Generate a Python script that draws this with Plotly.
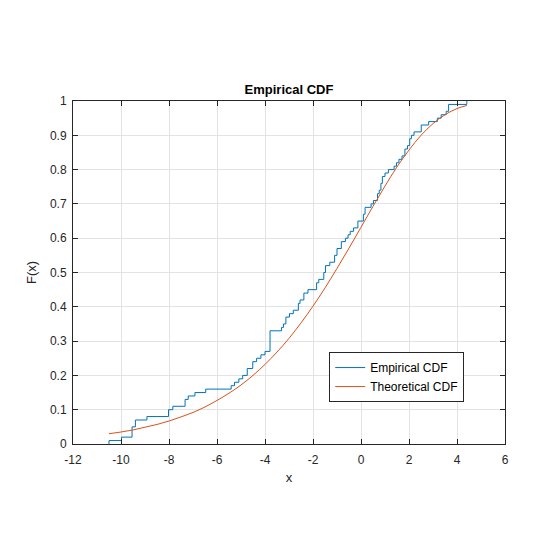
import plotly.graph_objects as go

# --- data ---
# empirical CDF: x position of each jump and the F value right after it
jump_x = [-10.50, -9.98, -9.54, -9.40, -8.92, -8.02, -7.84, -7.33, -7.20, -6.92,
          -6.47, -5.41, -5.27, -5.09, -4.93, -4.74, -4.51, -4.35, -4.17, -4.00,
          -3.79, -3.31, -3.23, -3.13, -2.98, -2.82, -2.61, -2.54, -2.38, -2.21,
          -1.85, -1.76, -1.55, -1.48, -1.30, -1.10, -1.00, -0.82, -0.65, -0.54,
          -0.45, -0.31, -0.13, 0.10, 0.17, 0.42, 0.52, 0.69, 0.76, 0.83,
          0.89, 1.00, 1.14, 1.38, 1.48, 1.58, 1.71, 1.83, 1.94, 2.03,
          2.10, 2.21, 2.51, 2.82, 3.18, 3.34, 3.55, 3.65, 4.41]
jump_f = [0.01, 0.02, 0.05, 0.07, 0.08, 0.10, 0.11, 0.13, 0.14, 0.15,
          0.16, 0.17, 0.18, 0.19, 0.20, 0.22, 0.24, 0.25, 0.26, 0.27,
          0.33, 0.34, 0.35, 0.37, 0.38, 0.39, 0.41, 0.42, 0.44, 0.45,
          0.47, 0.48, 0.50, 0.52, 0.53, 0.55, 0.57, 0.59, 0.60, 0.61,
          0.62, 0.63, 0.65, 0.67, 0.69, 0.70, 0.71, 0.73, 0.74, 0.76,
          0.78, 0.79, 0.80, 0.81, 0.82, 0.83, 0.84, 0.86, 0.87, 0.89,
          0.90, 0.91, 0.93, 0.94, 0.95, 0.96, 0.97, 0.99, 1.00]

# theoretical CDF, sampled along the curve
theo_x = [-10.5, -10.0, -9.5, -9.0, -8.5, -8.0, -7.5, -7.0, -6.5, -6.0,
          -5.5, -5.0, -4.5, -4.0, -3.5, -3.0, -2.5, -2.0, -1.5, -1.0,
          -0.5, 0.0, 0.5, 1.0, 1.5, 2.0, 2.5, 3.0, 3.5, 4.0, 4.41]
theo_f = [0.030, 0.035, 0.041, 0.049, 0.057, 0.067, 0.079, 0.092, 0.108, 0.127,
          0.148, 0.172, 0.200, 0.232, 0.268, 0.308, 0.353, 0.402, 0.455, 0.512,
          0.571, 0.632, 0.693, 0.752, 0.808, 0.857, 0.900, 0.934, 0.960, 0.978, 0.987]

x_ticks = [-12, -10, -8, -6, -4, -2, 0, 2, 4, 6]
x_ticklabels = ['-12', '-10', '-8', '-6', '-4', '-2', '0', '2', '4', '6']
y_ticks = [0, 0.1, 0.2, 0.3, 0.4, 0.5, 0.6, 0.7, 0.8, 0.9, 1]
y_ticklabels = ['0', '0.1', '0.2', '0.3', '0.4', '0.5', '0.6', '0.7', '0.8', '0.9', '1']

BLUE = '#0072BD'
ORANGE = '#D95319'
INK = '#262626'
FONT = 'Liberation Sans, Arial, sans-serif'

fig = go.Figure()

# stairs start at (min, 0)
fig.add_trace(go.Scatter(
    x=[jump_x[0]] + jump_x, y=[0] + jump_f,
    mode='lines', line=dict(color=BLUE, width=1, shape='hv'),
    name='Empirical CDF'
))
fig.add_trace(go.Scatter(
    x=theo_x, y=theo_f,
    mode='lines', line=dict(color=ORANGE, width=1, shape='spline'),
    name='Theoretical CDF'
))

axis_common = dict(
    showline=True, linecolor=INK, linewidth=1, mirror='ticks',
    ticks='inside', ticklen=5, tickcolor=INK,
    showgrid=True, gridcolor='#e3e3e3', gridwidth=1,
    zeroline=False,
    tickfont=dict(family=FONT, size=12, color=INK),
)

# page body adds ~8px offset, so margins are trimmed to land the axes where the reference has them
fig.update_layout(
    width=560, height=560,
    paper_bgcolor='white', plot_bgcolor='white',
    margin=dict(l=65, r=63, t=93, b=124),
    title=dict(text='<b>Empirical CDF</b>', x=0.5, xref='paper', xanchor='center',
               y=1, yref='paper', yanchor='bottom', pad=dict(b=7),
               font=dict(family=FONT, size=13, color='black')),
    xaxis=dict(range=[-12, 6], tickvals=x_ticks, ticktext=x_ticklabels,
               ticklabelstandoff=5,
               title=dict(text='x', font=dict(family=FONT, size=13, color=INK), standoff=6),
               **axis_common),
    yaxis=dict(range=[0, 1], tickvals=y_ticks, ticktext=y_ticklabels,
               ticklabelstandoff=3,
               title=dict(text='F(x)', font=dict(family=FONT, size=13, color=INK), standoff=10),
               **axis_common),
    legend=dict(x=0.593, y=0.268, xanchor='left', yanchor='top',
                bgcolor='white', bordercolor=INK, borderwidth=1,
                font=dict(family=FONT, size=12, color='black'),
                tracegroupgap=0, itemwidth=30),
    showlegend=True,
)

fig.write_html("out.html")
